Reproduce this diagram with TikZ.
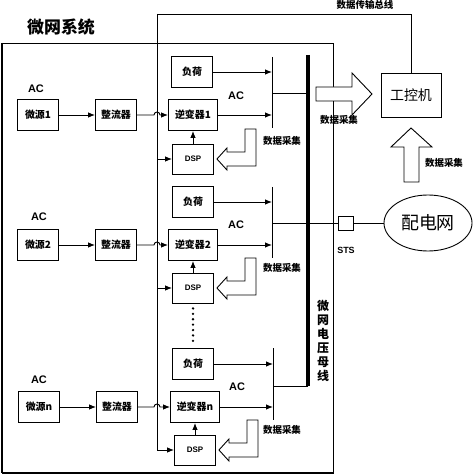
\documentclass[tikz,border=0pt]{standalone}
\usepackage{fontspec}
\setmainfont{Liberation Sans}
\newfontfamily\cjk{Noto Sans CJK SC}
\usetikzlibrary{arrows.meta,calc,shapes.geometric}
\newcommand\hollowL[1]{\draw[lw, fill=white] ($(#1.east)+(3,0)$) -- ++(10,-11) -- ++(0,4) -- ++(18,0) -- ++(0,-23) -- ++(11,0) -- ++(0,37) -- ++(-29,0) -- ++(0,4) -- cycle;}
\begin{document}
\begin{tikzpicture}[x=1bp,y=-1bp,
  lw/.style={line width=0.9bp},
  arr/.style={lw, -{Latex[length=7bp,width=5.5bp]}},
  box/.style={draw, line width=0.9bp, inner sep=0pt, minimum width=41bp, minimum height=31bp, font=\cjk\bfseries\fontsize{10}{12}\selectfont},
  dspbox/.style={box, minimum height=30bp, font=\bfseries\fontsize{8}{10}\selectfont},
  aclab/.style={font=\bfseries\fontsize{11}{13}\selectfont},
  cjklab/.style={font=\cjk\bfseries\fontsize{9.5}{11}\selectfont},
]
\useasboundingbox (0,0) rectangle (474,476);
% outer system box
\draw[lw] (2,43) rectangle (333,473);
\draw[line width=2.5bp] (2,43) -- (2,473);
\draw[line width=1.8bp] (2,473) -- (333,473);
\node[font=\cjk\bfseries\fontsize{17}{20}\selectfont] at (61,27) {微网系统};

% left column
\node[box] (ms1) at (38,115) {微源1};
\node[box] (zl1) at (116,115) {整流器};
\node[box] (ms2) at (38,245) {微源2};
\node[box] (zl2) at (116,245) {整流器};
\node[box] (msn) at (39,407) {微源n};
\node[box] (zln) at (117,407) {整流器};
\node[aclab] at (36,89) {AC};
\node[aclab] at (39,217) {AC};
\node[aclab] at (39,380) {AC};

% inverter column
\node[box] (fh1) at (192,72) {负荷};
\node[box, minimum width=49bp] (nb1) at (193,115) {逆变器1};
\node[dspbox] (dsp1) at (193,159) {DSP};
\node[box] (fh2) at (193,202) {负荷};
\node[box, minimum width=49bp] (nb2) at (193,245) {逆变器2};
\node[dspbox] (dsp2) at (193,288) {DSP};
\node[box] (fhn) at (193,364) {负荷};
\node[box, minimum width=49bp] (nbn) at (195,407) {逆变器n};
\node[dspbox] (dspn) at (195,450) {DSP};

% control/industrial PC
\node[draw, lw, minimum width=60bp, minimum height=44bp, inner sep=0pt, font=\cjk\fontsize{14}{16}\selectfont] (gkj) at (411,95) {工控机};
\node[draw, lw, ellipse, minimum width=88bp, minimum height=56bp, inner sep=0pt, font=\cjk\fontsize{18}{20}\selectfont] (pdw) at (428,223) {配电网};
\node[draw, lw, minimum width=15bp, minimum height=14bp, inner sep=0pt] (sts) at (346,223) {};
\node[font=\bfseries\fontsize{9}{11}\selectfont] at (346,250) {STS};

% distribution line x=157
\coordinate (bt) at (157,14);
\draw[arr] (bt) |- (dspn.west);
\draw[lw] (bt) -| (gkj.north);
\node[cjklab] at (365,5) {数据传输总线};
\draw[arr] (dsp1.west -| bt) -- (dsp1.west);
\draw[arr] (dsp2.west -| bt) -- (dsp2.west);

% source -> rectifier -> inverter
\draw[arr] (ms1) -- (zl1);
\draw[arr] (ms2) -- (zl2);
\draw[arr] (msn) -- (zln);
\draw[arr] (zl1.east) -- ($(zl1.east -| bt)+(-3,0)$) arc[start angle=180,end angle=360,radius=3] -- (nb1.west);
\draw[arr] (zl2.east) -- ($(zl2.east -| bt)+(-3,0)$) arc[start angle=180,end angle=360,radius=3] -- (nb2.west);
\draw[arr] (zln.east) -- ($(zln.east -| bt)+(-3,0)$) arc[start angle=180,end angle=360,radius=3] -- (nbn.west);

% DSP -> inverter
\draw[arr] (dsp1.north) -- (nb1.south);
\draw[arr] (dsp2.north) -- (nb2.south);
\draw[arr] (dspn.north) -- (nbn.south);

% dots
\draw[line width=2.6bp, line cap=round, dash pattern=on 0pt off 5.4bp] ($(dsp2.south)+(0,5)$) -- ($(dsp2.south |- fhn.north)+(0,-3)$);

% bars
\coordinate (b1t) at (272,57); \coordinate (b1b) at (272,128); \coordinate (j1) at (272,93);
\coordinate (b2t) at (272,187); \coordinate (b2b) at (272,258); \coordinate (j2) at (272,223);
\coordinate (bnt) at (273,348); \coordinate (bnb) at (273,420); \coordinate (jn) at (273,386);
\coordinate (bust) at (308,55); \coordinate (busb) at (308,386);
\draw[lw] (b1t) -- (b1b);
\draw[lw] (b2t) -- (b2b);
\draw[lw] (bnt) -- (bnb);
\draw[arr] (fh1.east) -- (fh1.east -| b1t);
\draw[arr] (nb1.east) -- (nb1.east -| b1t);
\draw[arr] (fh2.east) -- (fh2.east -| b2t);
\draw[arr] (nb2.east) -- (nb2.east -| b2t);
\draw[arr] (fhn.east) -- (fhn.east -| bnt);
\draw[arr] (nbn.east) -- (nbn.east -| bnt);
\draw[lw] (j1) -- (j1 -| bust);
\draw[lw] (j2) -- (sts.west);
\draw[lw] (sts.east) -- (pdw.west);
\draw[lw] (jn) -- (busb);
\draw[line width=3.2bp] (bust) -- (busb);
\node[font=\cjk\bfseries\fontsize{12}{14}\selectfont, align=center] at (323,341) {微\\网\\电\\压\\母\\线};

% AC and data labels
\node[aclab] at (236,96) {AC};
\node[aclab] at (236,225) {AC};
\node[aclab] at (237,387) {AC};
\node[cjklab] at (282,141) {数据采集};
\node[cjklab] at (282,268) {数据采集};
\node[cjklab] at (282,430) {数据采集};
\node[cjklab] at (339,120) {数据采集};
\node[cjklab] at (444,163) {数据采集};

% hollow arrows
\hollowL{dsp1}
\hollowL{dsp2}
\hollowL{dspn}
\draw[lw, fill=white] (316,87) -- (352,87) -- (352,73) -- (372,94) -- (352,115) -- (352,101) -- (316,101) -- cycle;
\draw[lw, fill=white] (404,182) -- (404,147) -- (391,147) -- (411,128) -- (432,147) -- (419,147) -- (419,182) -- cycle;
\end{tikzpicture}
\end{document}
